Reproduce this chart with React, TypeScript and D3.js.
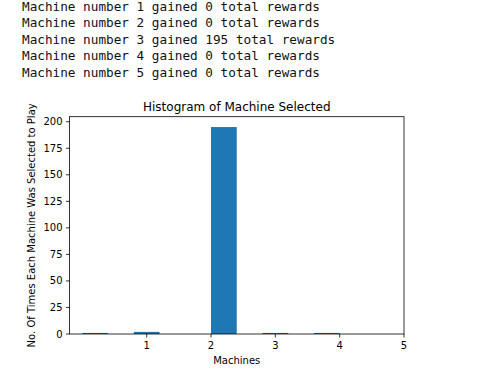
import React from "react";
import * as d3 from "d3";

const machineNumbers = [1, 2, 3, 4, 5];
const totalRewards = [0, 0, 195, 0, 0];

const binEdges = [0, 0.4, 0.8, 1.2, 1.6, 2.0, 2.4, 2.8, 3.2, 3.6, 4.0];
const binCounts = [1, 0, 2, 0, 0, 195, 0, 1, 0, 1];

const xTicks = [1, 2, 3, 4, 5];
const yTicks = [0, 25, 50, 75, 100, 125, 150, 175, 200];

const W = 480;
const H = 376;
const L = 69.5;
const R = 404;
const T = 116.7;
const B = 334;

export default function App() {
  const x = d3.scaleLinear().domain([-0.2, 5]).range([L, R]);
  const y = d3.scaleLinear().domain([0, 204.75]).range([B, T]);
  const sans = "DejaVu Sans, sans-serif";
  const mono = "DejaVu Sans Mono, monospace";
  return (
    <svg
      width={W}
      height={H}
      style={{ position: "absolute", left: 0, top: 0, background: "#fff" }}
    >
      {machineNumbers.map((m, i) => (
        <text
          key={m}
          x={22}
          y={10.6 + i * 16.6}
          fontFamily={mono}
          fontSize={12.7}
          fill="#111"
        >
          {`Machine number ${m} gained ${totalRewards[i]} total rewards`}
        </text>
      ))}
      <text
        x={(L + R) / 2}
        y={110.5}
        textAnchor="middle"
        fontFamily={sans}
        fontSize={12}
        fill="#000"
      >
        Histogram of Machine Selected
      </text>
      {binCounts.map((c, i) =>
        c > 0 ? (
          <rect
            key={i}
            x={x(binEdges[i])}
            width={x(binEdges[i + 1]) - x(binEdges[i])}
            y={y(c)}
            height={y(0) - y(c)}
            fill="#1f77b4"
          />
        ) : null
      )}
      <rect
        x={L}
        y={T}
        width={R - L}
        height={B - T}
        fill="none"
        stroke="#000"
        strokeWidth={0.8}
      />
      {yTicks.map((t) => (
        <g key={t}>
          <line x1={L - 3.5} x2={L} y1={y(t)} y2={y(t)} stroke="#000" strokeWidth={0.8} />
          <text
            x={L - 7}
            y={y(t)}
            dy="0.35em"
            textAnchor="end"
            fontFamily={sans}
            fontSize={10}
            fill="#000"
          >
            {t}
          </text>
        </g>
      ))}
      {xTicks.map((t) => (
        <g key={t}>
          <line x1={x(t)} x2={x(t)} y1={B} y2={B + 3.5} stroke="#000" strokeWidth={0.8} />
          <text
            x={x(t)}
            y={B + 7}
            dy="0.76em"
            textAnchor="middle"
            fontFamily={sans}
            fontSize={10}
            fill="#000"
          >
            {t}
          </text>
        </g>
      ))}
      <text
        x={(L + R) / 2}
        y={364}
        textAnchor="middle"
        fontFamily={sans}
        fontSize={10}
        fill="#000"
      >
        Machines
      </text>
      <text
        transform={`translate(35, ${(T + B) / 2}) rotate(-90)`}
        textAnchor="middle"
        fontFamily={sans}
        fontSize={10}
        fill="#000"
      >
        No. Of Times Each Machine Was Selected to Play
      </text>
    </svg>
  );
}
